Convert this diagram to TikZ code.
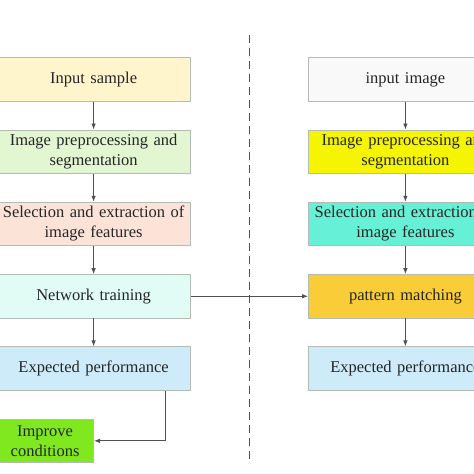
\documentclass[tikz,border=0pt]{standalone}
\usepackage{fontspec}
\setmainfont{Liberation Serif}
\usetikzlibrary{positioning,arrows.meta}
\definecolor{sampleyellow}{HTML}{FFF5CC}
\definecolor{prepgreen}{HTML}{E3F6D2}
\definecolor{selsalmon}{HTML}{FCE3D8}
\definecolor{traincyan}{HTML}{E0FCF5}
\definecolor{perfblue}{HTML}{CDEBF9}
\definecolor{improvegreen}{HTML}{80E81E}
\definecolor{imagewhite}{HTML}{F9F9F9}
\definecolor{prepyellow}{HTML}{F5F500}
\definecolor{selaqua}{HTML}{66F0D5}
\definecolor{matchgold}{HTML}{F8CD38}
\definecolor{boxline}{HTML}{B4BAB4}
\definecolor{arrowgray}{HTML}{505050}
\begin{document}
\begin{tikzpicture}[x=1pt, y=1pt,
    every node/.style={font=\fontsize{16.5}{20}\selectfont, text=black!85},
    field/.style={draw=boxline, line width=0.8pt, rectangle, inner xsep=4pt, inner ysep=0pt,
      minimum height=43.5pt, text width=186pt, align=center},
    flow/.style={draw=arrowgray, line width=0.8pt, -{Latex[length=6pt,width=4.5pt]}}]
\path[use as bounding box, clip] (0,0) rectangle (474,-474);
\matrix (m) [anchor=north west, inner sep=0pt, ampersand replacement=\&, column sep=117pt, row sep=28pt] at (-4,-57)
{
\node [field, fill=sampleyellow] (sample) {Input sample}; \&
\node [field, fill=imagewhite] (image) {input image}; \\
\node [field, fill=prepgreen] (prepL) {{Image preprocessing and\\ segmentation}}; \&
\node [field, fill=prepyellow] (prepR) {{Image preprocessing and\\ segmentation}}; \\
\node [field, fill=selsalmon] (selL) {{Selection and extraction of\\ image features}}; \&
\node [field, fill=selaqua] (selR) {{Selection and extraction of\\ image features}}; \\
\node [field, fill=traincyan] (train) {Network training}; \&
\node [field, fill=matchgold] (match) {pattern matching}; \\
\node [field, fill=perfblue] (perfL) {Expected performance}; \&
\node [field, fill=perfblue] (perfR) {Expected performance}; \\
};
\node (improve) [field, fill=improvegreen, text width=89pt, anchor=north west] at ([yshift=-28pt]perfL.south west) {Improve\\ conditions};

\draw [flow] (sample) -- (prepL);
\draw [flow] (prepL) -- (selL);
\draw [flow] (selL) -- (train);
\draw [flow] (train) -- (perfL);
\draw [flow] (image) -- (prepR);
\draw [flow] (prepR) -- (selR);
\draw [flow] (selR) -- (match);
\draw [flow] (match) -- (perfR);
\draw [flow] (train) -- (match);
\draw [flow] (perfL.south east) ++(-26,0) |- (improve);

\coordinate (divtop) at (249,-35);
\coordinate (divbot) at (249,-462);
\draw [arrowgray, line width=1pt, dash pattern=on 8pt off 5pt] (divtop) -- (divbot);
\end{tikzpicture}
\end{document}
